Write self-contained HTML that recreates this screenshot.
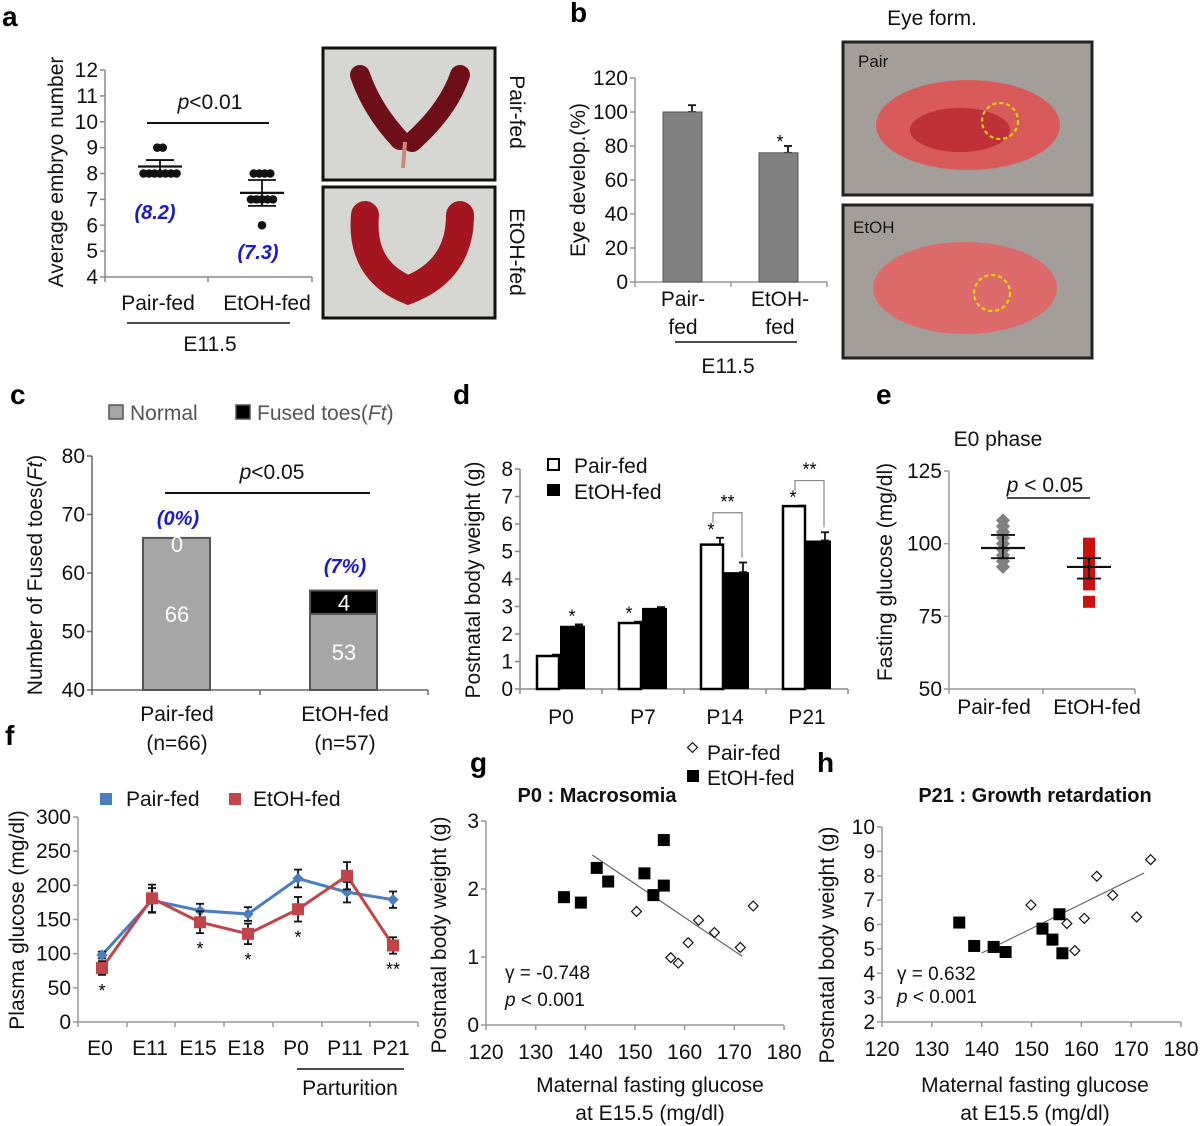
<!DOCTYPE html>
<html><head><meta charset="utf-8">
<style>
html,body{margin:0;padding:0;background:#fff;}
svg{display:block;font-family:"Liberation Sans",sans-serif;}
.t{font-size:21px;fill:#111;}
.L{font-size:28px;font-weight:bold;fill:#000;}
</style></head>
<body>
<svg id="fig" width="1200" height="1126" viewBox="0 0 1200 1126" xmlns="http://www.w3.org/2000/svg">
<text class="L" x="2" y="26">a</text>
<text class="L" x="570" y="22">b</text>
<text class="L" x="10" y="404">c</text>
<text class="L" x="453" y="404">d</text>
<text class="L" x="876" y="404">e</text>
<text class="L" x="5" y="745">f</text>
<text class="L" x="470" y="772">g</text>
<text class="L" x="817" y="772">h</text>

<text class="t" transform="translate(63,172) rotate(-90)" text-anchor="middle">Average embryo number</text>
<text class="t" x="210" y="109" text-anchor="middle"><tspan font-style="italic">p</tspan>&lt;0.01</text>
<line x1="147" y1="123" x2="269" y2="123" stroke="#111" stroke-width="2"/>
<text x="155" y="219" text-anchor="middle" font-size="20" font-weight="bold" font-style="italic" fill="#1a1acc">(8.2)</text>
<text x="258" y="259" text-anchor="middle" font-size="20" font-weight="bold" font-style="italic" fill="#1a1acc">(7.3)</text>
<text class="t" x="158" y="310" text-anchor="middle">Pair-fed</text>
<text class="t" x="267" y="310" text-anchor="middle">EtOH-fed</text>
<line x1="127" y1="323" x2="290" y2="323" stroke="#111" stroke-width="1.5"/>
<text class="t" x="210" y="351" text-anchor="middle">E11.5</text>

<g>
<rect x="323" y="48" width="172" height="132" fill="#d6d6d2" stroke="#111" stroke-width="3"/>
<path d="M360 75 Q372 110 400 140 M460 75 Q448 110 412 142" stroke="#6e0f18" stroke-width="20" fill="none" stroke-linecap="round"/>
<line x1="405" y1="142" x2="403" y2="168" stroke="#c98a7a" stroke-width="4"/>
</g>
<g>
<rect x="323" y="187" width="172" height="131" fill="#d6d6d2" stroke="#111" stroke-width="3"/>
<path d="M365 215 Q360 270 408 290 Q460 270 460 215" stroke="#a3161f" stroke-width="28" fill="none" stroke-linecap="round"/>
</g>
<text class="t" transform="translate(510,112) rotate(90)" text-anchor="middle">Pair-fed</text>
<text class="t" transform="translate(510,252) rotate(90)" text-anchor="middle">EtOH-fed</text>

<text class="t" transform="translate(585,180) rotate(-90)" text-anchor="middle">Eye develop.(%)</text>
<text class="t" x="683" y="306" text-anchor="middle">Pair-</text>
<text class="t" x="683" y="334" text-anchor="middle">fed</text>
<text class="t" x="780" y="306" text-anchor="middle">EtOH-</text>
<text class="t" x="780" y="334" text-anchor="middle">fed</text>
<line x1="675" y1="342" x2="797" y2="342" stroke="#111" stroke-width="1.5"/>
<text class="t" x="728" y="373" text-anchor="middle">E11.5</text>
<text class="t" x="932" y="25" text-anchor="middle">Eye form.</text>
<g>
<rect x="843" y="42" width="249" height="153" fill="#a39e99" stroke="#222" stroke-width="3"/>
<ellipse cx="968" cy="125" rx="92" ry="45" fill="#d95a5a"/>
<ellipse cx="960" cy="130" rx="50" ry="22" fill="#c03038"/>
<circle cx="1000" cy="121" r="18" fill="none" stroke="#f2e000" stroke-width="2" stroke-dasharray="4,3"/>
<text x="858" y="67" font-size="17" fill="#111">Pair</text>
</g>
<g>
<rect x="843" y="205" width="249" height="153" fill="#a39e99" stroke="#222" stroke-width="3"/>
<ellipse cx="965" cy="288" rx="92" ry="46" fill="#dc6a6a"/>
<circle cx="992" cy="293" r="18" fill="none" stroke="#f2e000" stroke-width="2" stroke-dasharray="4,3"/>
<text x="853" y="233" font-size="17" fill="#111">EtOH</text>
</g>

<rect x="109" y="405" width="14" height="14" fill="#a6a6a6" stroke="#555" stroke-width="1.5"/>
<text x="130" y="420" font-size="21" fill="#555">Normal</text>
<rect x="236" y="405" width="14" height="14" fill="#000" stroke="#555" stroke-width="1.5"/>
<text x="257" y="420" font-size="21" fill="#555">Fused toes(<tspan font-style="italic">Ft</tspan>)</text>
<text class="t" transform="translate(42,575) rotate(-90)" text-anchor="middle">Number of Fused toes(<tspan font-style="italic">Ft</tspan>)</text>
<text class="t" x="272" y="479" text-anchor="middle"><tspan font-style="italic">p</tspan>&lt;0.05</text>
<line x1="165" y1="493" x2="370" y2="493" stroke="#111" stroke-width="2"/>
<text x="178" y="525" text-anchor="middle" font-size="20" font-weight="bold" font-style="italic" fill="#1a1acc">(0%)</text>
<text x="345" y="573" text-anchor="middle" font-size="20" font-weight="bold" font-style="italic" fill="#1a1acc">(7%)</text>
<text class="t" x="177" y="721" text-anchor="middle">Pair-fed</text>
<text class="t" x="177" y="750" text-anchor="middle">(n=66)</text>
<text class="t" x="345" y="721" text-anchor="middle">EtOH-fed</text>
<text class="t" x="345" y="750" text-anchor="middle">(n=57)</text>

<text class="t" transform="translate(480,580) rotate(-90)" text-anchor="middle">Postnatal body weight (g)</text>
<rect x="548" y="459" width="11" height="11" fill="#fff" stroke="#000" stroke-width="2"/>
<text class="t" x="574" y="473">Pair-fed</text>
<rect x="547" y="484" width="13" height="12" fill="#000"/>
<text class="t" x="574" y="499">EtOH-fed</text>

<text class="t" x="998" y="446" text-anchor="middle">E0 phase</text>
<text class="t" transform="translate(892,572) rotate(-90)" text-anchor="middle">Fasting glucose (mg/dl)</text>
<text class="t" x="1045" y="492" text-anchor="middle"><tspan font-style="italic">p</tspan> &lt; 0.05</text>
<line x1="1007" y1="498" x2="1090" y2="498" stroke="#111" stroke-width="1.5"/>
<text class="t" x="994" y="714" text-anchor="middle">Pair-fed</text>
<text class="t" x="1097" y="714" text-anchor="middle">EtOH-fed</text>

<rect x="100" y="793" width="12" height="12" fill="#4a7ebf"/>
<text class="t" x="126" y="806">Pair-fed</text>
<rect x="229" y="793" width="12" height="12" fill="#c0444a"/>
<text class="t" x="253" y="806">EtOH-fed</text>
<text class="t" transform="translate(24,920) rotate(-90)" text-anchor="middle">Plasma glucose (mg/dl)</text>
<line x1="297" y1="1069" x2="404" y2="1069" stroke="#111" stroke-width="1.5"/>
<text class="t" x="350" y="1095" text-anchor="middle">Parturition</text>

<text x="597" y="802" text-anchor="middle" font-size="20" font-weight="bold" fill="#111">P0 : Macrosomia</text>
<text class="t" x="707" y="760">Pair-fed</text>
<text class="t" x="707" y="785">EtOH-fed</text>
<text class="t" transform="translate(446,935) rotate(-90)" text-anchor="middle">Postnatal body weight (g)</text>
<text x="505" y="979" font-size="19" fill="#111">γ = -0.748</text>
<text x="505" y="1006" font-size="19" fill="#111"><tspan font-style="italic">p</tspan> &lt; 0.001</text>
<text class="t" x="650" y="1092" text-anchor="middle">Maternal fasting glucose</text>
<text class="t" x="650" y="1120" text-anchor="middle">at E15.5 (mg/dl)</text>

<text x="1035" y="802" text-anchor="middle" font-size="20" font-weight="bold" fill="#111">P21 : Growth retardation</text>
<text class="t" transform="translate(834,945) rotate(-90)" text-anchor="middle">Postnatal body weight (g)</text>
<text x="897" y="980" font-size="19" fill="#111">γ = 0.632</text>
<text x="897" y="1003" font-size="19" fill="#111"><tspan font-style="italic">p</tspan> &lt; 0.001</text>
<text class="t" x="1035" y="1092" text-anchor="middle">Maternal fasting glucose</text>
<text class="t" x="1035" y="1120" text-anchor="middle">at E15.5 (mg/dl)</text>
</svg>

<script>
const aPairDots = [9,9,8,8,8,8,8,8,8];
const aEtohDots = [8,8,8,8,7,7,7,7,7,6];
const aMeans = [8.27, 7.25];
const aSem = [0.25, 0.5];
const aTicks = [4,5,6,7,8,9,10,11,12];
const bValues = [100, 76];
const bErr = [4, 4];
const bTicks = [0,20,40,60,80,100,120];
const cNormal = [66, 53];
const cFused = [0, 4];
const cTicks = [40,50,60,70,80];
const dCats = ['P0','P7','P14','P21'];
const dPair = [1.2, 2.4, 5.25, 6.65];
const dEtoh = [2.3, 2.95, 4.25, 5.4];
const dPairErr = [0.05, 0.05, 0.25, 0.02];
const dEtohErr = [0.05, 0.03, 0.35, 0.3];
const dTicks = [0,1,2,3,4,5,6,7,8];
const ePair = [108,106,104,102,100,98,96,94,92];
const eEtoh = [100,98,95,92,90,88,86,80];
const eMeans = [98.5, 92];
const eLo = [95, 88];
const eHi = [103, 95];
const eTicks = [50,75,100,125];
const fCats = ['E0','E11','E15','E18','P0','P11','P21'];
const fPair = [98, 178, 163, 158, 210, 190, 179];
const fEtoh = [79, 181, 146, 129, 165, 214, 112];
const fPairErr = [5, 18, 10, 10, 13, 15, 12];
const fEtohErr = [10, 20, 16, 15, 18, 20, 12];
const fTicks = [0,50,100,150,200,250,300];
const gPairX = [150.3,157.2,158.7,160.7,162.8,166,171.2,173.8];
const gPairY = [1.67,0.99,0.91,1.21,1.54,1.36,1.14,1.75];
const gEtohX = [135.7,139.1,142.3,144.6,151.9,153.7,155.8,155.8];
const gEtohY = [1.88,1.80,2.31,2.11,2.23,1.91,2.05,2.72];
const gTrendX = [141.4, 171.6];
const gTrendY = [2.50, 1.01];
const gYTicks = [0,1,2,3];
const scXTicks = [120,130,140,150,160,170,180];
const hPairX = [149.9,157.1,158.7,160.6,163.1,166.3,171.1,173.9];
const hPairY = [6.80,6.04,4.93,6.25,7.98,7.20,6.31,8.66];
const hEtohX = [135.5,138.5,142.4,144.8,152.2,154.2,155.6,156.2];
const hEtohY = [6.08,5.12,5.08,4.87,5.83,5.38,6.42,4.82];
const hTrendX = [140, 172.6];
const hTrendY = [4.83, 8.11];
const hYTicks = [2,3,4,5,6,7,8,9,10];

const svg = document.getElementById('fig');
const NS = 'http://www.w3.org/2000/svg';
function mk(tag, attrs, parent){
  const el = document.createElementNS(NS, tag);
  for (const k in attrs) el.setAttribute(k, attrs[k]);
  (parent||svg).appendChild(el);
  return el;
}
function lin(d0,d1,r0,r1){ return v => r0 + (v-d0)/(d1-d0)*(r1-r0); }
function axes(name, x0, x1, yb, yt, yScale, ticks, xTicks, color){
  let el = mk('line',{x1:x0,y1:yt,x2:x0,y2:yb,stroke:color,'stroke-width':1.5});
  
  
  el = mk('line',{x1:x0,y1:yb,x2:x1,y2:yb,stroke:color,'stroke-width':1.5});
  
  
  ticks.forEach(t=>{
    const y = yScale(t);
    let tk = mk('line',{x1:x0-5,y1:y,x2:x0,y2:y,stroke:color,'stroke-width':1.5});
    
    
    let tl = mk('text',{x:x0-7,y:y+7,'text-anchor':'end',class:'t'});
    tl.textContent = t;
    
    
  });
  xTicks.forEach(x=>{
    let tk = mk('line',{x1:x,y1:yb,x2:x,y2:yb+5,stroke:color,'stroke-width':1.5});
    
    
  });
}
function errbar(x, yTop, yBot, w, name){
  const g = mk('g',{stroke:'#111','stroke-width':1.8});
  
  
  mk('line',{x1:x,y1:yTop,x2:x,y2:yBot},g);
  mk('line',{x1:x-w,y1:yTop,x2:x+w,y2:yTop},g);
  mk('line',{x1:x-w,y1:yBot,x2:x+w,y2:yBot},g);
  return g;
}

(function(){
  const y = lin(4,12,277,70);
  axes('a',105,312,277,70,y,aTicks,[105,208,312],'#888');
  const cx = [160, 262];
  [aPairDots, aEtohDots].forEach((arr,gi)=>{
    const counts = {};
    arr.forEach(v=>{ counts[v]=(counts[v]||0)+1; });
    const seen = {};
    arr.forEach(v=>{
      const n = counts[v]; const k = (seen[v]=(seen[v]||0)+1)-1;
      const x = cx[gi] + (k-(n-1)/2)*5.5;
      const c = mk('circle',{cx:x,cy:y(v),r:4.3,fill:'#111'});
      
      
    });
    const m = mk('line',{x1:cx[gi]-22,y1:y(aMeans[gi]),x2:cx[gi]+22,y2:y(aMeans[gi]),stroke:'#111','stroke-width':2.2});
    
    
    errbar(cx[gi], y(aMeans[gi]+aSem[gi]), y(aMeans[gi]-aSem[gi]), 14, 'a-sem-bar');
  });
})();

(function(){
  const y = lin(0,120,282,78);
  axes('b',635,827,282,78,y,bTicks,[635,731,827],'#999');
  const xs = [663, 759];
  bValues.forEach((v,i)=>{
    errbar(xs[i]+29, y(v+bErr[i]), y(v), 4, 'b-error-bar');
    const r = mk('rect',{x:xs[i],y:y(v),width:39,height:282-y(v),fill:'#808080',stroke:'#555','stroke-width':1});
    
    
  });
  const s = mk('text',{x:780,y:y(bValues[1]+bErr[1])+2,'text-anchor':'middle','font-size':18});
  s.textContent='*';
  
  
})();

(function(){
  const y = lin(40,80,690,456);
  axes('c',92,428,690,456,y,cTicks,[92,260,428],'#666');
  const xs = [143, 310];
  cNormal.forEach((v,i)=>{
    const r = mk('rect',{x:xs[i],y:y(v),width:67,height:690-y(v),fill:'#a6a6a6',stroke:'#555','stroke-width':2});
    
    
    if (cFused[i]>0){
      const f = mk('rect',{x:xs[i],y:y(v+cFused[i]),width:67,height:y(v)-y(v+cFused[i]),fill:'#000',stroke:'#555','stroke-width':2});
      
      
    }
    const tl = mk('text',{x:xs[i]+34,y:(y(v)+690)/2+8,'text-anchor':'middle','font-size':22,fill:'#fff'});
    tl.textContent = v;
    
    
    const ft = mk('text',{x:xs[i]+34,y:cFused[i]>0?(y(v)+y(v+cFused[i]))/2+8:y(v+cFused[i])+14,'text-anchor':'middle','font-size':22,fill:'#fff'});
    ft.textContent = cFused[i];
    
    
  });
})();

(function(){
  const y = lin(0,8,689,469);
  axes('d',520,848,689,469,y,dTicks,[520,602,684,766,848],'#888');
  dCats.forEach((c,i)=>{
    const gx = 520 + 82*i;
    const px = gx+17, ex = gx+40;
    errbar(px+19, y(dPair[i]+dPairErr[i]), y(dPair[i]), 4, 'd-pair-error');
    errbar(ex+19, y(dEtoh[i]+dEtohErr[i]), y(dEtoh[i]), 4, 'd-etoh-error');
    const rp = mk('rect',{x:px,y:y(dPair[i]),width:22,height:689-y(dPair[i]),fill:'#fff',stroke:'#000','stroke-width':2.5});
    
    
    const re = mk('rect',{x:ex,y:y(dEtoh[i]),width:25,height:689-y(dEtoh[i]),fill:'#000'});
    
    
    const tl = mk('text',{x:gx+41,y:724,'text-anchor':'middle',class:'t'});
    tl.textContent = c;
    
    
    if (i<2){
      const sx = i===0 ? ex+12 : px+10;
      const sv = i===0 ? dEtoh[i]+dEtohErr[i] : dPair[i]+dPairErr[i];
      const s = mk('text',{x:sx,y:y(sv)-2,'text-anchor':'middle','font-size':18});
      s.textContent='*';
      
      
    } else {
      const s = mk('text',{x:px+10,y:y(dPair[i]+dPairErr[i])-2,'text-anchor':'middle','font-size':18});
      s.textContent='*';
      
      
      const top = y(dPair[i]+dPairErr[i]) - 25;
      const br = mk('path',{d:`M${px+12} ${y(dPair[i]+dPairErr[i])-15} V${top} H${ex+18} V${y(dEtoh[i]+dEtohErr[i])-5}`,fill:'none',stroke:'#888','stroke-width':1.2});
      
      
      const s2 = mk('text',{x:(px+ex+30)/2,y:top-5,'text-anchor':'middle','font-size':18});
      s2.textContent='**';
      
      
    }
  });
})();

(function(){
  const y = lin(50,125,689,471);
  axes('e',949,1135,689,471,y,eTicks,[949,1043,1135],'#999');
  const cx = [1003, 1089];
  ePair.forEach(v=>{
    const d = mk('rect',{x:cx[0]-5,y:y(v)-5,width:10,height:10,fill:'#808080',transform:`rotate(45 ${cx[0]} ${y(v)})`});
    
    
  });
  eEtoh.forEach(v=>{
    const d = mk('rect',{x:cx[1]-6,y:y(v)-6,width:12,height:12,fill:'#cc1111'});
    
    
  });
  [0,1].forEach(i=>{
    const m = mk('line',{x1:cx[i]-22,y1:y(eMeans[i]),x2:cx[i]+22,y2:y(eMeans[i]),stroke:'#111','stroke-width':2.2});
    
    
    errbar(cx[i], y(eHi[i]), y(eLo[i]), 12, 'e-sem-bar');
  });
})();

(function(){
  const y = lin(0,300,1022,817);
  const tx = [78,127,175,224,273,322,370,418];
  axes('f',78,418,1022,817,y,fTicks,tx,'#999');
  const cx = [102,152,200,248,298,347,393];
  fCats.forEach((c,i)=>{
    const tl = mk('text',{x:cx[i]-2,y:1055,'text-anchor':'middle',class:'t'});
    tl.textContent = c;
    
    
  });
  const pl = mk('polyline',{points:fPair.map((v,i)=>cx[i]+','+y(v)).join(' '),fill:'none',stroke:'#4a7ebf','stroke-width':3});
  
  
  const el = mk('polyline',{points:fEtoh.map((v,i)=>cx[i]+','+y(v)).join(' '),fill:'none',stroke:'#c0444a','stroke-width':3});
  
  
  fPair.forEach((v,i)=>{
    errbar(cx[i], y(v+fPairErr[i]), y(v-fPairErr[i]), 4, 'f-pair-error');
    const m = mk('rect',{x:cx[i]-4,y:y(v)-4,width:8,height:8,fill:'#4a7ebf',transform:`rotate(45 ${cx[i]} ${y(v)})`});
    
    
  });
  fEtoh.forEach((v,i)=>{
    errbar(cx[i], y(v+fEtohErr[i]), y(v-fEtohErr[i]), 4, 'f-etoh-error');
    const m = mk('rect',{x:cx[i]-6,y:y(v)-6,width:12,height:12,fill:'#c0444a'});
    
    
  });
  const stars = [[0,'*'],[2,'*'],[3,'*'],[4,'*'],[6,'**']];
  stars.forEach(([i,s])=>{
    const base = Math.min(fEtoh[i],fPair[i]) - Math.max(fEtohErr[i],fPairErr[i]);
    const t = mk('text',{x:cx[i],y:y(base)+22,'text-anchor':'middle','font-size':18});
    t.textContent = s;
    
    
  });
})();

function scatter(name, x0, x1, yb, yt, yd0, yd1, yTicks, px, py, ex, ey, trX, trY){
  const x = lin(120,180,x0,x1);
  const y = lin(yd0,yd1,yb,yt);
  axes(name,x0,x1,yb,yt,y,yTicks,scXTicks.map(x),'#999');
  scXTicks.forEach(t=>{
    const tl = mk('text',{x:x(t),y:yb+34,'text-anchor':'middle',class:'t'});
    tl.textContent = t;
    
    
  });
  const tr = mk('line',{x1:x(trX[0]),y1:y(trY[0]),x2:x(trX[1]),y2:y(trY[1]),stroke:'#666','stroke-width':1.2});
  
  
  px.forEach((v,i)=>{
    const cx=x(v), cy=y(py[i]);
    const d = mk('rect',{x:cx-3.5,y:cy-3.5,width:7,height:7,fill:'#fff',stroke:'#111','stroke-width':1.2,transform:`rotate(45 ${cx} ${cy})`});
    
    
  });
  ex.forEach((v,i)=>{
    const cx=x(v), cy=y(ey[i]);
    const d = mk('rect',{x:cx-6,y:cy-6,width:12,height:12,fill:'#000'});
    
    
  });
}
scatter('g',486,784,1025,821,0,3,gYTicks,gPairX,gPairY,gEtohX,gEtohY,gTrendX,gTrendY);
scatter('h',882,1181,1022,827,2,10,hYTicks,hPairX,hPairY,hEtohX,hEtohY,hTrendX,hTrendY);

let gl1 = mk('rect',{x:689,y:744,width:7,height:7,fill:'#fff',stroke:'#111','stroke-width':1.2,transform:'rotate(45 692.5 747.5)'});


let gl2 = mk('rect',{x:687,y:770,width:12,height:12,fill:'#000'});


</script>
</body></html>
